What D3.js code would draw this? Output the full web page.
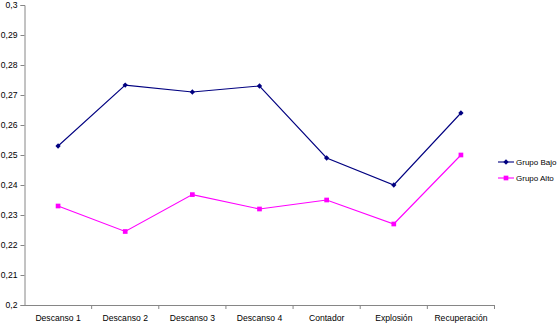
<!DOCTYPE html>
<html><head><meta charset="utf-8">
<script src="https://cdn.jsdelivr.net/npm/d3@7"></script>
<style>body{margin:0;background:#fff}svg{display:block;font-family:"Liberation Sans",Arial,sans-serif}</style>
</head><body><svg id="c" width="557" height="324"></svg>
<script>
const categories = ["Descanso 1","Descanso 2","Descanso 3","Descanso 4","Contador","Explosión","Recuperación"];
const grupoBajo = [0.253,0.2733,0.271,0.273,0.249,0.240,0.264];
const grupoAlto = [0.233,0.2245,0.2368,0.232,0.235,0.227,0.250];
const yTicks = [0.2,0.21,0.22,0.23,0.24,0.25,0.26,0.27,0.28,0.29,0.3];
const seriesNames = ["Grupo Bajo","Grupo Alto"];

const svg = d3.select("#c");
const mLeft = 24.5, mRight = 494.5, mTop = 5, mBottom = 305;
const x = d3.scaleBand().domain(categories).range([mLeft,mRight]);
const y = d3.scaleLinear().domain([0.2,0.3]).range([mBottom,mTop]);
const fmt = d => d3.format(".2~f")(d).replace(".", ",");
const axisColor = "#868686";

const yAxis = svg.append("g").attr("transform",`translate(${mLeft},0)`)
  .call(d3.axisLeft(y).tickValues(yTicks).tickFormat(fmt).tickSize(4).tickPadding(3));
const xAxis = svg.append("g").attr("transform",`translate(0,${mBottom})`)
  .call(d3.axisBottom(x).tickSize(0).tickPadding(10));
[yAxis,xAxis].forEach(g=>{
  g.select(".domain").attr("stroke",axisColor);
  g.selectAll(".tick line").attr("stroke",axisColor);
  g.selectAll("text").attr("fill","#000").style("font-size","8.6px").style("font-family","'Liberation Sans',Arial,sans-serif");
});
// category separator ticks
svg.append("g").selectAll("line").data(categories.slice(1)).join("line")
  .attr("x1",d=>x(d)).attr("x2",d=>x(d)).attr("y1",mBottom).attr("y2",mBottom+4)
  .attr("stroke",axisColor);
svg.append("line").attr("x1",mRight).attr("x2",mRight).attr("y1",mBottom).attr("y2",mBottom+4).attr("stroke",axisColor);

const cx = c => x(c) + x.bandwidth()/2;
const line = d3.line().x((d,i)=>cx(categories[i])).y(d=>y(d));
const symSquare = d3.symbol().type(d3.symbolSquare).size(22);
const symDiamond = d3.symbol().type(d3.symbolSquare).size(14);

function drawSeries(vals,color,shape){
  svg.append("path").datum(vals).attr("d",line).attr("fill","none").attr("stroke",color).attr("stroke-width",1.1);
  svg.append("g").selectAll("path").data(vals).join("path")
    .attr("d",shape==="diamond"?symDiamond:symSquare).attr("fill",color)
    .attr("transform",(d,i)=>`translate(${cx(categories[i])},${y(d)})`+(shape==="diamond"?" rotate(45)":""));
}
drawSeries(grupoBajo,"#000080","diamond");
drawSeries(grupoAlto,"#FF00FF","square");

// legend
const leg = svg.append("g");
const legColors = ["#000080","#FF00FF"], legShapes=["diamond","square"];
seriesNames.forEach((n,i)=>{
  const ly = 162 + i*16;
  leg.append("line").attr("x1",498).attr("x2",514).attr("y1",ly).attr("y2",ly).attr("stroke",legColors[i]).attr("stroke-width",1.1);
  leg.append("path").attr("d",legShapes[i]==="diamond"?symDiamond:symSquare).attr("fill",legColors[i])
    .attr("transform",`translate(506,${ly})`+(legShapes[i]==="diamond"?" rotate(45)":""));
  leg.append("text").attr("x",516).attr("y",ly+3).text(n).style("font-size","8px").attr("fill","#000");
});
</script></body></html>
